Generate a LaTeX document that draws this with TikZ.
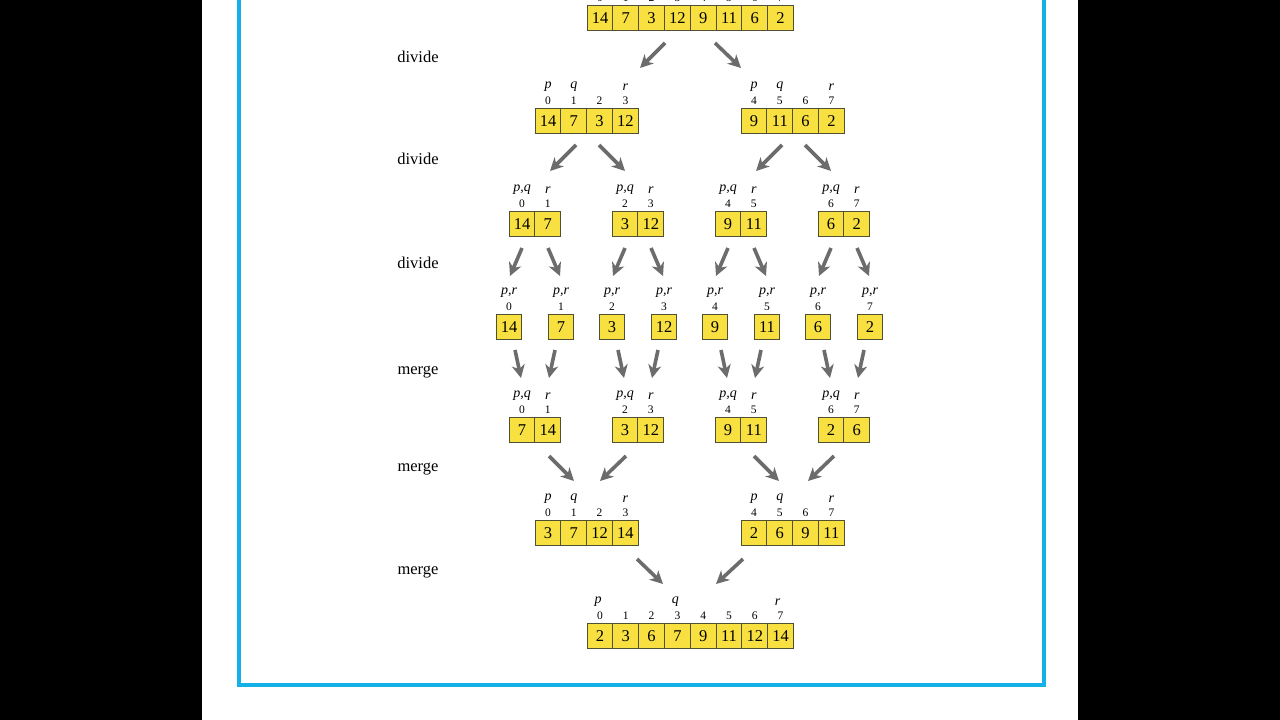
\documentclass[tikz,border=0pt]{standalone}
\usepackage{fontspec}
\setmainfont{Liberation Serif}
\usetikzlibrary{arrows.meta,calc}
\definecolor{cellyellow}{RGB}{248,224,64}
\definecolor{celledge}{RGB}{80,80,50}
\definecolor{arrowgray}{RGB}{108,108,108}
\definecolor{framecyan}{RGB}{20,176,232}
\tikzset{
  cell/.style={draw=celledge,line width=0.9pt,fill=cellyellow,minimum width=25.8pt,minimum height=25.5pt,inner sep=0pt,font=\fontsize{16.5}{16.5}\selectfont},
  idx/.style={inner sep=0pt,font=\fontsize{11.5}{11.5}\selectfont},
  var/.style={inner sep=0pt,font=\fontsize{14}{14}\selectfont\itshape},
  stagelabel/.style={inner sep=0pt,font=\fontsize{16.5}{16.5}\selectfont},
  bigarrow/.style={draw=arrowgray,line width=3.6pt,-{Stealth[length=13pt,width=13pt,inset=4pt]}}
}
% #1 name, #2 x of first cell centre, #3 y of cell centre, #4 list index/value
\newcommand\cellrow[4]{%
  \foreach \i/\v [count=\k from 0] in {#4} {
    \node[cell] (#1-\k) at ({#2+25.8*\k},#3) {\v};
    \node[idx] (#1-i\k) at ({#2+25.8*\k},{#3-20}) {\i};
  }}
\newcommand\bigarr[5]{%
  \coordinate (#1-s) at (#2);
  \coordinate (#1-e) at (#3);
  \draw[bigarrow] (#1-s) -- (#1-e);}
\begin{document}
\begin{tikzpicture}[x=1pt,y=-1pt]
\useasboundingbox (0,0) rectangle (1280,720);
\fill[black] (0,0) rectangle (1280,720);
\fill[white] (202,0) rectangle (1078,720);
\draw[framecyan,line width=4pt] (239,-10) rectangle (1044,685);

% stage labels
\node[stagelabel] (d1) at (418,57) {divide};
\node[stagelabel] (d2) at (418,159) {divide};
\node[stagelabel] (d3) at (418,263) {divide};
\node[stagelabel] (m1) at (418,372) {merge};
\node[stagelabel] (m2) at (418,469) {merge};
\node[stagelabel] (m3) at (418,572) {merge};

% level 0
\cellrow{A}{600}{18}{0/14,1/7,2/3,3/12,4/9,5/11,6/6,7/2}

% level 1
\cellrow{B}{548}{121}{0/14,1/7,2/3,3/12}
\cellrow{C}{754}{121}{4/9,5/11,6/6,7/2}
\foreach \n in {B,C}{
  \node[var] at ($(\n-0)+(0,-34)$) {p};
  \node[var] at ($(\n-1)+(0,-34)$) {q};
  \node[var] at ($(\n-3)+(0,-34)$) {r};
}

% level 2
\cellrow{D}{522}{224}{0/14,1/7}
\cellrow{E}{625}{224}{2/3,3/12}
\cellrow{F}{728}{224}{4/9,5/11}
\cellrow{G}{831}{224}{6/6,7/2}

% level 3
\cellrow{H0}{509}{327}{0/14}
\cellrow{H1}{561}{327}{1/7}
\cellrow{H2}{612}{327}{2/3}
\cellrow{H3}{664}{327}{3/12}
\cellrow{H4}{715}{327}{4/9}
\cellrow{H5}{767}{327}{5/11}
\cellrow{H6}{818}{327}{6/6}
\cellrow{H7}{870}{327}{7/2}
\foreach \n in {H0,H1,H2,H3,H4,H5,H6,H7}{
  \node[var] at ($(\n-0)+(0,-34)$) {p,r};
}

% level 4
\cellrow{I}{522}{430}{0/7,1/14}
\cellrow{J}{625}{430}{2/3,3/12}
\cellrow{K}{728}{430}{4/9,5/11}
\cellrow{L}{831}{430}{6/2,7/6}
\foreach \n in {D,E,F,G,I,J,K,L}{
  \node[var] at ($(\n-0)+(0,-34)$) {p,q};
  \node[var] at ($(\n-1)+(0,-34)$) {r};
}

% level 5
\cellrow{M}{548}{533}{0/3,1/7,2/12,3/14}
\cellrow{N}{754}{533}{4/2,5/6,6/9,7/11}
\foreach \n in {M,N}{
  \node[var] at ($(\n-0)+(0,-34)$) {p};
  \node[var] at ($(\n-1)+(0,-34)$) {q};
  \node[var] at ($(\n-3)+(0,-34)$) {r};
}

% level 6
\cellrow{O}{600}{636}{0/2,1/3,2/6,3/7,4/9,5/11,6/12,7/14}
\node[var] at ($(O-0)+(-2,-34)$) {p};
\node[var] at ($(O-3)+(-2,-34)$) {q};
\node[var] at ($(O-7)+(-3,-34)$) {r};

% arrows level 0 -> 1
\bigarr{a1}{665,43}{640,68}{}{}
\bigarr{a2}{715,43}{741,68}{}{}
% level 1 -> 2
\bigarr{b1}{576,145}{550,171}{}{}
\bigarr{b2}{599,145}{625,171}{}{}
\bigarr{b3}{782,145}{756,171}{}{}
\bigarr{b4}{805,145}{831,171}{}{}
% level 2 -> 3
\foreach \c [count=\j] in {535,638,741,844}{
  \bigarr{c\j l}{{\c-13},248}{{\c-25},276}{}{}
  \bigarr{c\j r}{{\c+13},248}{{\c+25},276}{}{}
}
% level 3 -> 4
\foreach \c [count=\j] in {535,638,741,844}{
  \bigarr{d\j l}{{\c-20},350}{{\c-14},378}{}{}
  \bigarr{d\j r}{{\c+20},350}{{\c+14},378}{}{}
}
% level 4 -> 5
\bigarr{e1}{549,456}{574,481}{}{}
\bigarr{e2}{626,456}{600,481}{}{}
\bigarr{e3}{754,456}{779,481}{}{}
\bigarr{e4}{834,456}{808,481}{}{}
% level 5 -> 6
\bigarr{f1}{637,559}{663,584}{}{}
\bigarr{f2}{743,559}{716,584}{}{}
\end{tikzpicture}
\end{document}
